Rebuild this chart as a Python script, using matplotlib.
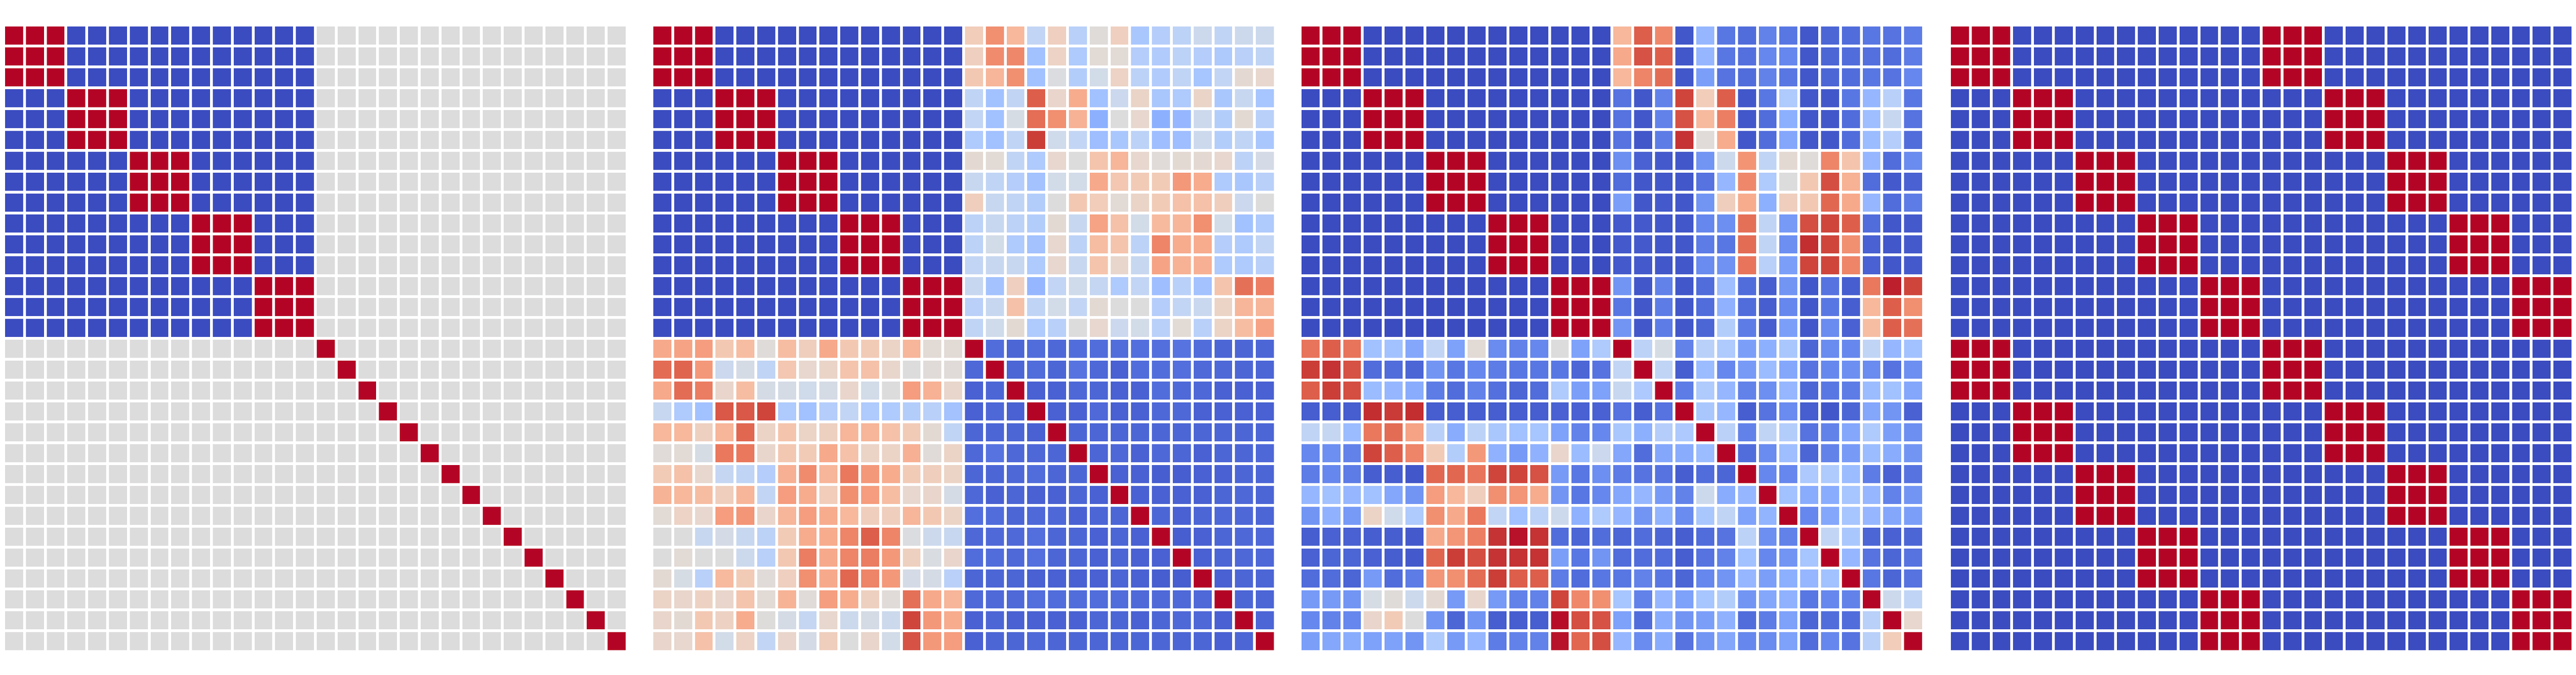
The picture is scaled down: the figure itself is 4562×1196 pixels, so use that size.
import numpy as np
import matplotlib
matplotlib.use('Agg')
import matplotlib.pyplot as plt

# group label of each of the 15 variables (blocks of 3)
groups = [0, 0, 0, 1, 1, 1, 2, 2, 2, 3, 3, 3, 4, 4, 4]

# panel 2, upper right block
p2_tr = [
    [0.18, 0.55, 0.33, -0.18, 0.16, -0.25, 0.02, 0.16, -0.33, -0.27, -0.22, -0.12, -0.20, -0.12, -0.12],
    [0.16, 0.57, 0.58, -0.38, 0.13, -0.30, 0.04, 0.04, -0.27, -0.29, -0.22, -0.27, -0.31, -0.24, -0.20],
    [0.22, 0.35, 0.55, -0.38, -0.02, -0.28, -0.08, 0.13, -0.22, -0.29, -0.20, -0.35, -0.18, 0.06, 0.08],
    [-0.20, -0.38, -0.19, 0.75, 0.10, 0.40, -0.38, -0.13, 0.11, -0.34, -0.30, 0.11, -0.33, -0.15, -0.35],
    [-0.18, -0.38, -0.05, 0.69, 0.55, 0.37, -0.50, 0.00, 0.08, -0.50, -0.45, -0.12, -0.28, 0.05, -0.25],
    [-0.30, -0.38, -0.20, 0.87, -0.10, -0.18, -0.40, -0.33, -0.22, -0.40, -0.40, -0.12, -0.28, -0.20, -0.33],
    [0.06, 0.04, -0.20, -0.30, 0.08, 0.00, 0.25, 0.35, 0.08, 0.03, 0.05, 0.06, 0.08, -0.22, -0.07],
    [-0.15, -0.20, -0.27, -0.37, -0.08, -0.08, 0.42, 0.23, 0.20, 0.20, 0.50, 0.40, -0.30, -0.33, -0.25],
    [0.17, -0.15, -0.20, -0.28, 0.00, 0.22, 0.18, 0.04, 0.11, 0.20, 0.27, 0.27, 0.17, -0.13, 0.00],
    [-0.22, -0.15, -0.22, -0.28, 0.05, -0.15, 0.45, 0.27, -0.08, 0.32, 0.35, 0.55, -0.08, -0.38, -0.30],
    [-0.22, -0.08, -0.30, -0.37, 0.08, -0.22, 0.30, 0.25, -0.22, 0.60, 0.40, 0.40, -0.27, -0.30, -0.18],
    [-0.18, -0.15, -0.15, -0.30, 0.08, -0.15, 0.25, 0.09, -0.15, 0.45, 0.37, 0.38, -0.30, -0.30, -0.25],
    [-0.15, -0.37, 0.16, -0.45, -0.18, -0.10, -0.17, -0.30, -0.18, -0.40, -0.25, -0.37, 0.25, 0.68, 0.62],
    [-0.24, -0.15, 0.27, -0.20, -0.08, -0.18, 0.05, 0.00, 0.00, -0.27, -0.18, -0.14, 0.12, 0.35, 0.35],
    [-0.20, -0.10, 0.05, -0.30, -0.25, 0.00, 0.08, -0.13, -0.08, -0.25, 0.04, -0.25, 0.12, 0.30, 0.45],
]

# panel 2, lower left block
p2_bl = [
    [0.42, 0.45, 0.48, 0.22, 0.30, 0.02, 0.30, 0.17, 0.42, 0.22, 0.20, 0.12, 0.35, 0.04, 0.04],
    [0.70, 0.73, 0.50, -0.13, -0.06, -0.20, 0.23, 0.08, 0.11, 0.25, 0.27, 0.09, 0.00, 0.03, 0.03],
    [0.42, 0.70, 0.63, 0.10, 0.30, -0.06, -0.06, -0.10, -0.06, 0.10, -0.08, 0.00, 0.48, 0.37, 0.09],
    [-0.15, -0.30, -0.38, 0.78, 0.78, 0.85, -0.30, -0.38, -0.27, -0.18, -0.30, -0.30, -0.28, -0.25, -0.37],
    [0.33, 0.33, 0.15, 0.35, 0.72, 0.12, 0.25, 0.12, 0.15, 0.35, 0.35, 0.27, 0.20, 0.05, -0.20],
    [0.03, 0.04, -0.05, 0.65, 0.65, 0.09, 0.22, 0.20, 0.42, 0.27, 0.12, 0.12, 0.38, 0.03, 0.12],
    [0.20, 0.27, 0.08, -0.17, -0.20, -0.27, 0.38, 0.57, 0.35, 0.65, 0.50, 0.40, 0.20, 0.17, 0.12],
    [0.36, 0.33, 0.30, 0.17, 0.35, -0.18, 0.48, 0.40, 0.18, 0.55, 0.48, 0.30, 0.08, 0.10, -0.06],
    [0.04, 0.13, 0.08, 0.48, 0.52, 0.10, 0.35, 0.48, 0.40, 0.33, 0.17, 0.17, 0.35, 0.22, 0.12],
    [0.00, 0.00, -0.15, -0.07, -0.15, -0.22, 0.20, 0.40, 0.40, 0.60, 0.75, 0.60, -0.02, -0.12, -0.15],
    [0.00, 0.04, 0.00, 0.00, -0.12, -0.25, 0.22, 0.63, 0.42, 0.60, 0.63, 0.50, 0.15, -0.03, 0.10],
    [0.05, -0.05, -0.25, 0.32, 0.20, 0.03, 0.16, 0.55, 0.42, 0.72, 0.60, 0.50, -0.07, -0.06, -0.24],
    [0.12, 0.10, 0.14, 0.10, 0.25, 0.04, 0.36, 0.03, 0.47, 0.40, 0.15, 0.03, 0.68, 0.42, 0.35],
    [0.10, 0.05, 0.22, 0.14, 0.40, 0.01, -0.06, -0.17, 0.08, -0.12, -0.06, -0.12, 0.85, 0.50, 0.40],
    [0.10, 0.08, 0.27, -0.08, 0.13, -0.18, 0.10, -0.07, 0.17, 0.00, 0.10, -0.08, 0.80, 0.50, 0.48],
]

# panel 2, lower right block
p2_br = [
    [1.00, -0.85, -0.88, -0.85, -0.87, -0.85, -0.85, -0.85, -0.84, -0.84, -0.82, -0.85, -0.88, -0.88, -0.88],
    [-0.87, 1.00, -0.88, -0.85, -0.88, -0.82, -0.87, -0.90, -0.85, -0.85, -0.84, -0.86, -0.87, -0.88, -0.88],
    [-0.90, -0.88, 1.00, -0.90, -0.90, -0.87, -0.88, -0.90, -0.90, -0.85, -0.86, -0.87, -0.90, -0.90, -0.90],
    [-0.90, -0.87, -0.90, 1.00, -0.90, -0.90, -0.86, -0.90, -0.90, -0.87, -0.87, -0.90, -0.90, -0.90, -0.90],
    [-0.88, -0.88, -0.88, -0.90, 1.00, -0.88, -0.88, -0.88, -0.88, -0.88, -0.88, -0.88, -0.88, -0.88, -0.88],
    [-0.87, -0.82, -0.87, -0.87, -0.88, 1.00, -0.88, -0.87, -0.90, -0.87, -0.88, -0.90, -0.88, -0.88, -0.87],
    [-0.88, -0.88, -0.87, -0.85, -0.88, -0.88, 1.00, -0.90, -0.90, -0.92, -0.92, -0.90, -0.90, -0.88, -0.88],
    [-0.87, -0.90, -0.88, -0.90, -0.90, -0.88, -0.90, 1.00, -0.90, -0.90, -0.90, -0.90, -0.88, -0.87, -0.88],
    [-0.84, -0.85, -0.88, -0.86, -0.87, -0.90, -0.88, -0.88, 1.00, -0.88, -0.90, -0.88, -0.87, -0.87, -0.88],
    [-0.87, -0.86, -0.86, -0.84, -0.88, -0.88, -0.90, -0.88, -0.90, 1.00, -0.92, -0.90, -0.88, -0.87, -0.87],
    [-0.85, -0.85, -0.86, -0.83, -0.88, -0.88, -0.90, -0.88, -0.90, -0.90, 1.00, -0.90, -0.88, -0.87, -0.87],
    [-0.88, -0.88, -0.88, -0.90, -0.90, -0.90, -0.90, -0.88, -0.90, -0.92, -0.92, 1.00, -0.90, -0.88, -0.88],
    [-0.86, -0.86, -0.86, -0.84, -0.85, -0.85, -0.85, -0.85, -0.86, -0.86, -0.86, -0.86, 1.00, -0.88, -0.88],
    [-0.90, -0.88, -0.90, -0.90, -0.90, -0.90, -0.88, -0.88, -0.90, -0.88, -0.87, -0.87, -0.90, 1.00, -0.88],
    [-0.90, -0.88, -0.88, -0.86, -0.88, -0.88, -0.88, -0.88, -0.88, -0.88, -0.88, -0.88, -0.90, -0.88, 1.00],
]

# panel 3, upper right block
p3_tr = [
    [0.33, 0.75, 0.58, -0.95, -0.45, -0.80, -0.85, -0.75, -0.80, -0.95, -0.88, -0.85, -0.80, -0.82, -0.78],
    [0.42, 0.80, 0.75, -0.95, -0.45, -0.80, -0.83, -0.72, -0.72, -0.95, -0.88, -0.85, -0.83, -0.85, -0.78],
    [0.33, 0.60, 0.70, -0.95, -0.60, -0.82, -0.85, -0.75, -0.80, -0.95, -0.88, -0.85, -0.80, -0.82, -0.72],
    [-0.82, -0.95, -0.75, 0.85, 0.18, 0.75, -0.95, -0.80, -0.30, -0.95, -0.95, -0.80, -0.45, -0.25, -0.80],
    [-0.82, -0.95, -0.75, 0.80, 0.32, 0.62, -0.95, -0.85, -0.50, -0.95, -0.95, -0.85, -0.40, -0.15, -0.82],
    [-0.82, -0.95, -0.78, 0.90, 0.03, 0.40, -0.95, -0.85, -0.55, -0.95, -0.95, -0.85, -0.42, -0.27, -0.85],
    [-0.68, -0.90, -0.93, -0.95, -0.65, -0.12, 0.53, -0.20, 0.05, 0.02, 0.60, 0.25, -0.45, -0.85, -0.70],
    [-0.85, -0.95, -0.95, -0.95, -0.82, -0.45, 0.58, -0.30, 0.00, 0.22, 0.82, 0.37, -0.85, -0.93, -0.90],
    [-0.60, -0.95, -0.93, -0.95, -0.65, 0.17, 0.40, -0.50, 0.17, 0.22, 0.72, 0.42, -0.45, -0.85, -0.78],
    [-0.93, -0.93, -0.95, -0.95, -0.72, -0.68, 0.68, -0.20, -0.62, 0.82, 0.85, 0.75, -0.85, -0.95, -0.93],
    [-0.93, -0.93, -0.95, -0.95, -0.78, -0.80, 0.70, -0.20, -0.68, 0.92, 0.85, 0.55, -0.90, -0.95, -0.93],
    [-0.93, -0.93, -0.95, -0.95, -0.70, -0.67, 0.67, -0.25, -0.60, 0.85, 0.85, 0.60, -0.90, -0.95, -0.93],
    [-0.65, -0.95, -0.75, -0.95, -0.85, -0.40, -0.85, -0.92, -0.65, -0.95, -0.82, -0.92, 0.65, 0.95, 0.85],
    [-0.80, -0.95, -0.78, -0.95, -0.85, -0.48, -0.85, -0.92, -0.72, -0.95, -0.80, -0.92, 0.33, 0.75, 0.55],
    [-0.65, -0.95, -0.78, -0.95, -0.88, -0.28, -0.78, -0.92, -0.60, -0.95, -0.70, -0.90, 0.30, 0.75, 0.68],
]

# panel 3, lower left block
p3_bl = [
    [0.67, 0.75, 0.67, -0.38, -0.38, -0.55, -0.18, -0.58, 0.04, -0.70, -0.75, -0.72, 0.00, -0.58, -0.30],
    [0.87, 0.90, 0.80, -0.85, -0.85, -0.88, -0.65, -0.80, -0.72, -0.78, -0.80, -0.80, -0.80, -0.88, -0.82],
    [0.75, 0.87, 0.82, -0.42, -0.45, -0.52, -0.78, -0.85, -0.75, -0.83, -0.88, -0.85, -0.30, -0.60, -0.58],
    [-0.92, -0.92, -0.92, 0.92, 0.88, 0.92, -0.92, -0.92, -0.92, -0.92, -0.92, -0.92, -0.90, -0.90, -0.90],
    [-0.20, -0.17, -0.42, 0.65, 0.70, 0.45, -0.25, -0.52, -0.22, -0.33, -0.38, -0.35, -0.58, -0.75, -0.72],
    [-0.72, -0.68, -0.75, 0.85, 0.75, 0.60, 0.20, -0.28, 0.50, -0.48, -0.62, -0.48, 0.10, -0.42, -0.13],
    [-0.78, -0.72, -0.78, -0.92, -0.92, -0.95, 0.72, 0.72, 0.67, 0.85, 0.85, 0.80, -0.62, -0.80, -0.68],
    [-0.45, -0.38, -0.45, -0.38, -0.55, -0.65, 0.48, 0.33, 0.17, 0.55, 0.52, 0.40, -0.65, -0.80, -0.72],
    [-0.65, -0.48, -0.62, 0.12, -0.10, -0.30, 0.55, 0.42, 0.65, -0.18, -0.38, -0.22, -0.12, -0.48, -0.30],
    [-0.92, -0.90, -0.90, -0.92, -0.92, -0.93, 0.42, 0.52, 0.62, 0.90, 0.97, 0.90, -0.85, -0.88, -0.85],
    [-0.90, -0.88, -0.88, -0.90, -0.92, -0.93, 0.73, 0.87, 0.82, 0.90, 0.90, 0.90, -0.60, -0.80, -0.65],
    [-0.85, -0.85, -0.88, -0.62, -0.85, -0.78, 0.52, 0.55, 0.70, 0.87, 0.75, 0.75, -0.78, -0.85, -0.80],
    [-0.62, -0.62, -0.65, -0.05, 0.02, -0.12, 0.06, -0.62, 0.09, -0.62, -0.75, -0.75, 0.85, 0.58, 0.55],
    [-0.72, -0.75, -0.72, 0.10, 0.20, 0.00, -0.65, -0.88, -0.65, -0.92, -0.92, -0.92, 0.98, 0.82, 0.80],
    [-0.60, -0.55, -0.52, -0.58, -0.58, -0.65, -0.30, -0.62, -0.45, -0.78, -0.75, -0.75, 0.97, 0.72, 0.82],
]

# panel 3, lower right block
p3_br = [
    [1.00, -0.22, -0.05, -0.75, -0.25, -0.30, -0.60, -0.50, -0.33, -0.88, -0.70, -0.72, -0.20, -0.45, -0.38],
    [-0.18, 1.00, -0.20, -0.92, -0.42, -0.72, -0.62, -0.42, -0.55, -0.82, -0.72, -0.68, -0.70, -0.82, -0.68],
    [-0.15, -0.32, 1.00, -0.78, -0.30, -0.45, -0.75, -0.68, -0.45, -0.88, -0.80, -0.78, -0.42, -0.38, -0.55],
    [-0.82, -0.92, -0.82, 1.00, -0.33, -0.45, -0.92, -0.82, -0.70, -0.92, -0.95, -0.88, -0.55, -0.65, -0.90],
    [-0.33, -0.50, -0.27, -0.32, 1.00, -0.23, -0.75, -0.20, -0.28, -0.82, -0.75, -0.55, -0.30, -0.60, -0.68],
    [-0.55, -0.85, -0.55, -0.52, -0.42, 1.00, -0.85, -0.70, -0.40, -0.88, -0.75, -0.62, -0.42, -0.52, -0.65],
    [-0.78, -0.82, -0.82, -0.92, -0.85, -0.88, 1.00, -0.72, -0.72, -0.32, -0.30, -0.42, -0.78, -0.90, -0.82],
    [-0.55, -0.45, -0.62, -0.75, -0.12, -0.52, -0.45, 1.00, -0.38, -0.52, -0.52, -0.35, -0.45, -0.75, -0.65],
    [-0.45, -0.65, -0.47, -0.70, -0.33, -0.20, -0.58, -0.47, 1.00, -0.72, -0.55, -0.35, -0.45, -0.55, -0.60],
    [-0.88, -0.85, -0.88, -0.92, -0.85, -0.82, -0.22, -0.68, -0.75, 1.00, -0.18, -0.33, -0.88, -0.90, -0.88],
    [-0.85, -0.85, -0.85, -0.92, -0.82, -0.75, -0.38, -0.72, -0.65, -0.35, 1.00, -0.45, -0.82, -0.88, -0.82],
    [-0.80, -0.75, -0.80, -0.88, -0.72, -0.65, -0.45, -0.60, -0.50, -0.45, -0.38, 1.00, -0.80, -0.88, -0.82],
    [-0.35, -0.75, -0.45, -0.58, -0.35, -0.28, -0.65, -0.55, -0.48, -0.80, -0.72, -0.75, 1.00, -0.12, -0.20],
    [-0.58, -0.85, -0.52, -0.65, -0.60, -0.48, -0.85, -0.78, -0.58, -0.88, -0.85, -0.85, -0.25, 1.00, 0.08],
    [-0.45, -0.70, -0.52, -0.82, -0.65, -0.55, -0.72, -0.70, -0.58, -0.85, -0.72, -0.82, -0.25, 0.18, 1.00],
]

g = np.array(groups)
block = np.where(g[:, None] == g[None, :], 1.0, -1.0)
zeros = np.zeros((15, 15))
eye_grey = np.where(np.eye(15) > 0, 1.0, 0.0)

panels = [
    np.block([[block, zeros], [zeros, eye_grey]]),
    np.block([[block, np.array(p2_tr)], [np.array(p2_bl), np.array(p2_br)]]),
    np.block([[block, np.array(p3_tr)], [np.array(p3_bl), np.array(p3_br)]]),
    np.block([[block, block], [block, block]]),
]

W, H = 4562, 1196
fig = plt.figure(figsize=(W / 100, H / 100), dpi=100)
lefts = [6, 1154, 2302, 3452]
for left, mat in zip(lefts, panels):
    ax = fig.add_axes([left / W, 42 / H, 1104 / W, 1110 / H])
    ax.pcolormesh(mat, cmap='coolwarm', vmin=-1, vmax=1,
                  edgecolors='white', linewidth=2.2)
    ax.set_xlim(0, 30)
    ax.set_ylim(30, 0)
    ax.axis('off')

fig.savefig('out.png', dpi=100, facecolor='white')
